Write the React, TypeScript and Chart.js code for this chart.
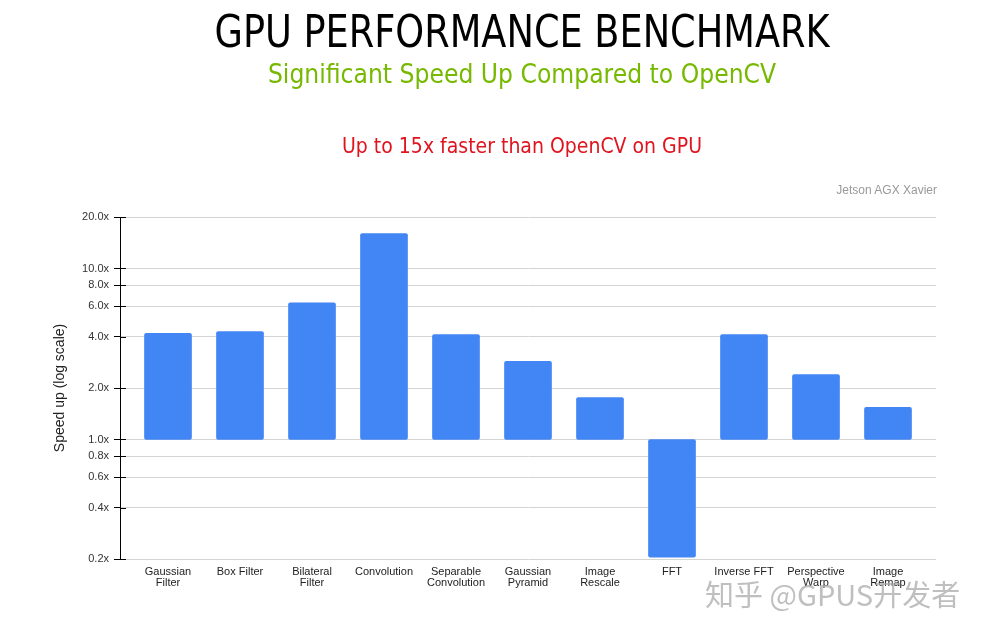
import React, { useEffect, useRef } from "react";
import { Chart, registerables } from "chart.js";

Chart.register(...registerables);

const categories: string[][] = [
  ["Gaussian", "Filter"],
  ["Box Filter"],
  ["Bilateral", "Filter"],
  ["Convolution"],
  ["Separable", "Convolution"],
  ["Gaussian", "Pyramid"],
  ["Image", "Rescale"],
  ["FFT"],
  ["Inverse FFT"],
  ["Perspective", "Warp"],
  ["Image", "Remap"],
];
const speedups = [4.17, 4.28, 6.3, 16.0, 4.11, 2.86, 1.76, 0.205, 4.11, 2.4, 1.54];
const baseline = 1;
const yTickValues = [0.2, 0.4, 0.6, 0.8, 1, 2, 4, 6, 8, 10, 20];

const titleText = "GPU PERFORMANCE BENCHMARK";
const subtitleText = "Significant Speed Up Compared to OpenCV";
const highlightText = "Up to 15x faster than OpenCV on GPU";
const deviceText = "Jetson AGX Xavier";
const yAxisTitle = "Speed up (log scale)";
const watermarkText = "知乎 @GPUS开发者";

const innerTicks = {
  id: "innerTicks",
  afterDraw(chart: any) {
    const { ctx, chartArea, scales } = chart;
    const y = scales.y;
    ctx.save();
    ctx.strokeStyle = "#000";
    ctx.lineWidth = 1;
    y.ticks.forEach((t: any) => {
      const py = Math.round(y.getPixelForValue(t.value)) + 0.5;
      ctx.beginPath();
      ctx.moveTo(chartArea.left, py);
      ctx.lineTo(chartArea.left + 6, py);
      ctx.stroke();
    });
    ctx.restore();
  },
};

export default function App() {
  const ref = useRef<HTMLCanvasElement | null>(null);

  useEffect(() => {
    if (!ref.current) return;
    const chart = new Chart(ref.current, {
      type: "bar",
      data: {
        datasets: [
          {
            data: speedups.map((v, i) => ({ x: i, y: [baseline, v] })) as any,
            backgroundColor: "#4285f4",
            borderRadius: 2,
            borderSkipped: false,
            barThickness: 47,
          },
        ],
      },
      plugins: [innerTicks],
      options: {
        responsive: false,
        animation: false,
        layout: { padding: { top: 217, right: 47, bottom: 0, left: 0 } },
        plugins: {
          legend: { display: false },
          tooltip: { enabled: false },
          title: { display: false },
        },
        scales: {
          x: {
            type: "linear",
            offset: false,
            min: -2 / 3,
            max: 32 / 3,
            afterBuildTicks: (s: any) => {
              s.ticks = categories.map((_, i) => ({ value: i }));
            },
            afterFit: (s: any) => {
              s.height = 75;
            },
            grid: { display: false, drawTicks: false },
            border: { display: false },
            ticks: {
              autoSkip: false,
              maxRotation: 0,
              padding: 7,
              color: "#222",
              font: { family: "Liberation Sans", size: 11, lineHeight: 1.0 },
              callback: (v: any) => categories[Number(v)] ?? "",
            },
          },
          y: {
            type: "logarithmic",
            min: 0.2,
            max: 20,
            afterBuildTicks: (s: any) => {
              s.ticks = yTickValues.map((v) => ({ value: v }));
            },
            afterFit: (s: any) => {
              s.width = 120;
            },
            grid: { color: "#d4d4d4", tickColor: "#000", tickLength: 6 },
            border: { color: "#000", width: 1 },
            title: {
              display: true,
              text: yAxisTitle,
              color: "#222",
              font: { family: "Liberation Sans", size: 14 },
              padding: { top: 52, bottom: 0 },
            },
            ticks: {
              autoSkip: false,
              padding: 5,
              color: "#333",
              font: { family: "Liberation Sans", size: 11 },
              callback: (v: any) => Number(v).toFixed(1) + "x",
            },
          },
        },
      },
    });
    return () => chart.destroy();
  }, []);

  const centered: React.CSSProperties = {
    position: "absolute",
    left: 522,
    whiteSpace: "nowrap",
    pointerEvents: "none",
    fontFamily: "'DejaVu Sans'",
  };

  return (
    <div
      style={{
        position: "fixed",
        left: 0,
        top: 0,
        width: 983,
        height: 634,
        background: "#fff",
        overflow: "hidden",
      }}
    >
      <canvas ref={ref} width={983} height={634} style={{ position: "absolute", left: 0, top: 0 }} />
      <div
        style={{
          ...centered,
          top: 9,
          transform: "translateX(-50%) scaleX(0.815)",
          fontSize: 45,
          lineHeight: "45px",
          color: "#000",
        }}
      >
        {titleText}
      </div>
      <div
        style={{
          ...centered,
          top: 61,
          transform: "translateX(-50%) scaleX(0.905)",
          fontSize: 26,
          lineHeight: "26px",
          color: "#76b900",
        }}
      >
        {subtitleText}
      </div>
      <div
        style={{
          ...centered,
          top: 136,
          transform: "translateX(-50%) scaleX(0.9)",
          fontSize: 21,
          lineHeight: "21px",
          color: "#e0141e",
        }}
      >
        {highlightText}
      </div>
      <div
        style={{
          position: "absolute",
          right: 46,
          top: 184,
          fontFamily: "'Liberation Sans'",
          fontSize: 12,
          lineHeight: "12px",
          color: "#999",
          whiteSpace: "nowrap",
        }}
      >
        {deviceText}
      </div>
      <div
        style={{
          position: "absolute",
          left: 705,
          top: 576,
          fontFamily: "'Noto Sans CJK SC'",
          fontSize: 29,
          lineHeight: "34px",
          color: "rgba(170,170,170,0.75)",
          whiteSpace: "nowrap",
          pointerEvents: "none",
        }}
      >
        {watermarkText}
      </div>
    </div>
  );
}
